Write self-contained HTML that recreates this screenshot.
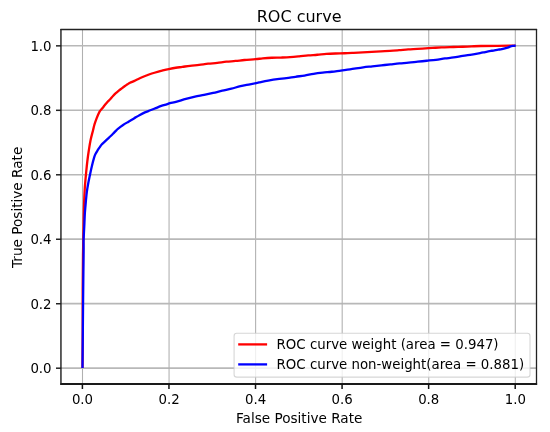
<!DOCTYPE html>
<html><head><meta charset="utf-8"><title>ROC curve</title>
<style>html,body{margin:0;padding:0;background:#fff;}svg{display:block;}</style>
</head><body>
<svg width="550" height="432" viewBox="0 0 550 432">
<rect width="550" height="432" fill="#fff"/>
<line x1="82.50" y1="29.5" x2="82.50" y2="383.9" stroke="#b0b0b0" stroke-width="1.07"/>
<line x1="61.0" y1="368.10" x2="536.6" y2="368.10" stroke="#b8b8b8" stroke-width="1.6"/>
<line x1="169.06" y1="29.5" x2="169.06" y2="383.9" stroke="#b0b0b0" stroke-width="1.07"/>
<line x1="61.0" y1="303.63" x2="536.6" y2="303.63" stroke="#b8b8b8" stroke-width="1.6"/>
<line x1="255.62" y1="29.5" x2="255.62" y2="383.9" stroke="#b0b0b0" stroke-width="1.07"/>
<line x1="61.0" y1="239.16" x2="536.6" y2="239.16" stroke="#b8b8b8" stroke-width="1.6"/>
<line x1="342.18" y1="29.5" x2="342.18" y2="383.9" stroke="#b0b0b0" stroke-width="1.07"/>
<line x1="61.0" y1="174.69" x2="536.6" y2="174.69" stroke="#b8b8b8" stroke-width="1.6"/>
<line x1="428.74" y1="29.5" x2="428.74" y2="383.9" stroke="#b0b0b0" stroke-width="1.07"/>
<line x1="61.0" y1="110.22" x2="536.6" y2="110.22" stroke="#b8b8b8" stroke-width="1.6"/>
<line x1="515.30" y1="29.5" x2="515.30" y2="383.9" stroke="#b0b0b0" stroke-width="1.07"/>
<line x1="61.0" y1="45.75" x2="536.6" y2="45.75" stroke="#b8b8b8" stroke-width="1.6"/>
<path d="M82.50,368.00 C82.53,361.67 82.67,343.00 82.70,330.00 C82.73,317.00 82.65,302.50 82.70,290.00 C82.75,277.50 82.86,265.55 83.00,255.00 C83.14,244.45 83.42,233.73 83.55,226.70 C83.68,219.67 83.69,217.25 83.80,212.80 C83.91,208.35 84.07,203.57 84.20,200.00 C84.33,196.43 84.42,194.45 84.60,191.40 C84.78,188.35 85.03,184.93 85.30,181.70 C85.57,178.47 85.87,175.37 86.20,172.00 C86.53,168.63 86.87,165.08 87.30,161.50 C87.73,157.92 88.25,154.08 88.80,150.50 C89.35,146.92 89.88,143.42 90.60,140.00 C91.32,136.58 92.45,132.62 93.10,130.00 C93.75,127.38 93.93,126.18 94.50,124.30 C95.07,122.42 95.88,120.33 96.50,118.70 C97.12,117.07 97.63,115.75 98.20,114.50 C98.77,113.25 99.22,112.23 99.90,111.20 C100.58,110.17 101.50,109.28 102.30,108.30 C103.10,107.32 103.85,106.35 104.70,105.30 C105.55,104.25 106.48,103.00 107.40,102.00 C108.32,101.00 109.27,100.30 110.20,99.30 C111.13,98.30 112.07,97.02 113.00,96.00 C113.93,94.98 114.88,94.06 115.80,93.20 C116.72,92.34 117.55,91.62 118.50,90.85 C119.45,90.08 120.48,89.33 121.50,88.58 C122.52,87.82 123.60,87.02 124.60,86.31 C125.60,85.59 126.60,84.88 127.50,84.28 C128.40,83.69 128.85,83.31 130.00,82.74 C131.15,82.17 132.77,81.61 134.40,80.86 C136.03,80.10 137.80,79.09 139.80,78.20 C141.80,77.31 144.40,76.28 146.40,75.50 C148.40,74.72 149.80,74.16 151.80,73.50 C153.80,72.84 156.58,72.06 158.40,71.55 C160.22,71.04 160.98,70.87 162.70,70.46 C164.42,70.06 166.52,69.57 168.70,69.12 C170.88,68.67 173.53,68.13 175.80,67.76 C178.07,67.39 179.93,67.23 182.30,66.90 C184.67,66.57 187.20,66.14 190.00,65.80 C192.80,65.46 196.07,65.19 199.10,64.84 C202.13,64.49 205.17,64.06 208.20,63.72 C211.23,63.39 214.27,63.17 217.30,62.84 C220.33,62.50 223.37,62.01 226.40,61.70 C229.43,61.39 232.48,61.25 235.50,60.97 C238.52,60.69 241.17,60.31 244.50,60.01 C247.83,59.71 252.47,59.44 255.50,59.17 C258.53,58.91 259.98,58.64 262.70,58.40 C265.42,58.17 268.77,57.92 271.80,57.77 C274.83,57.63 277.87,57.65 280.90,57.55 C283.93,57.45 286.97,57.37 290.00,57.18 C293.03,56.99 296.07,56.69 299.10,56.40 C302.13,56.11 305.17,55.73 308.20,55.46 C311.23,55.18 314.27,55.03 317.30,54.77 C320.33,54.52 323.37,54.15 326.40,53.94 C329.43,53.73 332.48,53.62 335.50,53.51 C338.52,53.39 341.48,53.37 344.50,53.25 C347.52,53.13 350.57,52.96 353.60,52.80 C356.63,52.64 359.67,52.47 362.70,52.30 C365.73,52.13 368.77,51.97 371.80,51.80 C374.83,51.63 377.87,51.45 380.90,51.30 C383.93,51.15 386.97,51.08 390.00,50.90 C393.03,50.72 396.07,50.45 399.10,50.20 C402.13,49.95 405.17,49.61 408.20,49.39 C411.23,49.17 413.92,49.08 417.30,48.87 C420.68,48.66 425.47,48.34 428.50,48.15 C431.53,47.96 432.83,47.87 435.50,47.73 C438.17,47.59 441.48,47.43 444.50,47.31 C447.52,47.19 450.57,47.10 453.60,47.01 C456.63,46.91 459.67,46.83 462.70,46.73 C465.73,46.62 468.77,46.52 471.80,46.40 C474.83,46.28 473.65,46.13 480.90,46.00 C488.15,45.86 509.57,45.67 515.30,45.60" fill="none" stroke="#ff0000" stroke-width="2.3" stroke-linejoin="round" stroke-linecap="butt"/>
<path d="M82.50,368.00 C82.60,356.67 82.92,319.33 83.10,300.00 C83.28,280.67 83.52,262.00 83.60,252.00 C83.68,242.00 83.49,244.22 83.60,240.00 C83.71,235.78 84.03,231.23 84.25,226.70 C84.47,222.17 84.61,217.25 84.90,212.80 C85.19,208.35 85.67,203.57 86.00,200.00 C86.33,196.43 86.52,194.23 86.90,191.40 C87.28,188.57 87.78,185.78 88.30,183.00 C88.82,180.22 89.42,177.47 90.00,174.70 C90.58,171.93 91.09,169.32 91.80,166.40 C92.51,163.48 93.62,159.32 94.25,157.20 C94.88,155.08 95.02,154.87 95.60,153.70 C96.17,152.53 97.00,151.30 97.70,150.20 C98.40,149.10 99.10,148.08 99.80,147.10 C100.50,146.12 101.08,145.20 101.90,144.30 C102.72,143.40 103.78,142.57 104.70,141.70 C105.62,140.83 106.48,139.97 107.40,139.10 C108.32,138.23 109.27,137.38 110.20,136.50 C111.13,135.62 112.07,134.73 113.00,133.80 C113.93,132.87 114.98,131.73 115.80,130.90 C116.62,130.07 116.68,129.78 117.90,128.80 C119.12,127.82 121.33,126.18 123.10,125.00 C124.87,123.82 126.68,122.80 128.50,121.70 C130.32,120.60 132.18,119.48 134.00,118.40 C135.82,117.32 137.58,116.20 139.40,115.20 C141.22,114.20 143.08,113.22 144.90,112.40 C146.72,111.58 148.48,111.02 150.30,110.30 C152.12,109.58 153.97,108.83 155.80,108.10 C157.63,107.37 159.48,106.53 161.30,105.90 C163.12,105.27 165.25,104.75 166.70,104.30 C168.15,103.85 168.32,103.64 170.00,103.20 C171.68,102.76 174.15,102.37 176.80,101.66 C179.45,100.94 182.87,99.73 185.90,98.90 C188.93,98.07 191.97,97.37 195.00,96.70 C198.03,96.03 201.07,95.53 204.10,94.90 C207.13,94.27 210.17,93.60 213.20,92.90 C216.23,92.20 219.27,91.40 222.30,90.70 C225.33,90.00 228.37,89.49 231.40,88.73 C234.43,87.96 237.40,86.85 240.50,86.11 C243.60,85.37 246.90,84.90 250.00,84.30 C253.10,83.70 256.07,83.08 259.10,82.48 C262.13,81.88 265.17,81.26 268.20,80.72 C271.23,80.18 274.27,79.65 277.30,79.23 C280.33,78.81 283.37,78.61 286.40,78.20 C289.43,77.79 292.48,77.21 295.50,76.77 C298.52,76.32 301.48,76.03 304.50,75.53 C307.52,75.04 310.57,74.28 313.60,73.80 C316.63,73.31 319.67,72.95 322.70,72.61 C325.73,72.27 328.77,72.11 331.80,71.76 C334.83,71.41 337.87,70.91 340.90,70.52 C343.93,70.12 346.28,69.94 350.00,69.40 C353.72,68.86 359.48,67.80 363.20,67.29 C366.92,66.78 369.27,66.69 372.30,66.36 C375.33,66.03 378.37,65.66 381.40,65.33 C384.43,65.00 387.48,64.71 390.50,64.40 C393.52,64.08 396.48,63.73 399.50,63.45 C402.52,63.17 405.57,63.00 408.60,62.71 C411.63,62.42 414.67,62.04 417.70,61.72 C420.73,61.39 423.77,61.08 426.80,60.75 C429.83,60.43 432.87,60.15 435.90,59.77 C438.93,59.39 442.05,58.86 445.00,58.48 C447.95,58.10 450.65,57.91 453.60,57.48 C456.55,57.05 459.67,56.39 462.70,55.90 C465.73,55.40 468.92,54.99 471.80,54.53 C474.68,54.06 478.03,53.45 480.00,53.10 C481.97,52.75 482.38,52.66 483.60,52.41 C484.82,52.16 486.08,51.86 487.30,51.62 C488.52,51.37 489.70,51.17 490.90,50.94 C492.10,50.71 493.28,50.47 494.50,50.26 C495.72,50.04 496.98,49.86 498.20,49.67 C499.42,49.48 500.23,49.48 501.80,49.13 C503.37,48.79 506.15,48.06 507.60,47.60 C509.05,47.14 509.60,46.68 510.50,46.40 C511.40,46.12 512.12,46.03 513.00,45.90 C513.88,45.77 515.33,45.65 515.80,45.60" fill="none" stroke="#0000ff" stroke-width="2.3" stroke-linejoin="round" stroke-linecap="butt"/>
<line x1="60.95" y1="28.9" x2="60.95" y2="384.9" stroke="#000" stroke-width="1.25"/>
<line x1="536.5" y1="28.9" x2="536.5" y2="384.9" stroke="#222" stroke-width="1.3"/>
<line x1="60.4" y1="29.5" x2="537.1" y2="29.5" stroke="#222" stroke-width="1.3"/>
<line x1="60.4" y1="384.0" x2="537.1" y2="384.0" stroke="#1a1a1a" stroke-width="2.0"/>
<line x1="82.40" y1="383.9" x2="82.40" y2="389.0" stroke="#111" stroke-width="1.5"/>
<line x1="61.0" y1="368.20" x2="56.0" y2="368.20" stroke="#222" stroke-width="1.5"/>
<line x1="168.96" y1="383.9" x2="168.96" y2="389.0" stroke="#111" stroke-width="1.5"/>
<line x1="61.0" y1="303.73" x2="56.0" y2="303.73" stroke="#222" stroke-width="1.5"/>
<line x1="255.52" y1="383.9" x2="255.52" y2="389.0" stroke="#111" stroke-width="1.5"/>
<line x1="61.0" y1="239.26" x2="56.0" y2="239.26" stroke="#222" stroke-width="1.5"/>
<line x1="342.08" y1="383.9" x2="342.08" y2="389.0" stroke="#111" stroke-width="1.5"/>
<line x1="61.0" y1="174.79" x2="56.0" y2="174.79" stroke="#222" stroke-width="1.5"/>
<line x1="428.64" y1="383.9" x2="428.64" y2="389.0" stroke="#111" stroke-width="1.5"/>
<line x1="61.0" y1="110.32" x2="56.0" y2="110.32" stroke="#222" stroke-width="1.5"/>
<line x1="515.20" y1="383.9" x2="515.20" y2="389.0" stroke="#111" stroke-width="1.5"/>
<line x1="61.0" y1="45.85" x2="56.0" y2="45.85" stroke="#222" stroke-width="1.5"/>
<g font-family="DejaVu Sans, Liberation Sans, sans-serif" font-size="13.333" fill="#000">
<text x="82.50" y="404.3" text-anchor="middle">0.0</text>
<text x="51.6" y="373.25" text-anchor="end">0.0</text>
<text x="169.06" y="404.3" text-anchor="middle">0.2</text>
<text x="51.6" y="308.78" text-anchor="end">0.2</text>
<text x="255.62" y="404.3" text-anchor="middle">0.4</text>
<text x="51.6" y="244.31" text-anchor="end">0.4</text>
<text x="342.18" y="404.3" text-anchor="middle">0.6</text>
<text x="51.6" y="179.84" text-anchor="end">0.6</text>
<text x="428.74" y="404.3" text-anchor="middle">0.8</text>
<text x="51.6" y="115.37" text-anchor="end">0.8</text>
<text x="515.30" y="404.3" text-anchor="middle">1.0</text>
<text x="51.6" y="50.90" text-anchor="end">1.0</text>
<text x="299.2" y="422.6" text-anchor="middle" font-size="13.6">False Positive Rate</text>
<text transform="translate(21.9,207.35) rotate(-90)" text-anchor="middle" font-size="13.64">True Positive Rate</text>
</g>
<text x="299.1" y="21.8" text-anchor="middle" font-family="DejaVu Sans, Liberation Sans, sans-serif" font-size="16" fill="#000">ROC curve</text>
<rect x="234.1" y="333.3" width="295.90" height="43.80" rx="2.7" ry="2.7" fill="#fff" fill-opacity="0.8" stroke="#cccccc" stroke-opacity="0.8" stroke-width="1.07"/>
<line x1="238.2" y1="344.4" x2="267.1" y2="344.4" stroke="#ff0000" stroke-width="2.3"/>
<line x1="238.2" y1="364.4" x2="267.1" y2="364.4" stroke="#0000ff" stroke-width="2.3"/>
<g font-family="DejaVu Sans, Liberation Sans, sans-serif" font-size="13.333" fill="#000">
<text x="276.6" y="349.0">ROC curve weight (area = 0.947)</text>
<text x="276.6" y="369.0">ROC curve non-weight(area = 0.881)</text>
</g>
</svg>
</body></html>
